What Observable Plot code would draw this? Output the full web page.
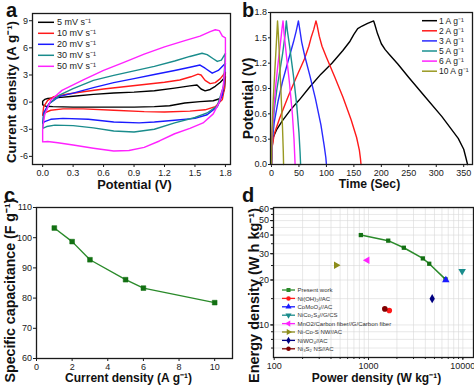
<!DOCTYPE html>
<html><head><meta charset="utf-8">
<script src="https://cdn.jsdelivr.net/npm/d3@7"></script>
<script src="https://cdn.jsdelivr.net/npm/@observablehq/plot@0.6"></script>
<style>
body{margin:0;background:#fff;}
#wrap{position:relative;width:474px;height:387px;overflow:hidden;background:#fff;font-family:"Liberation Sans",Arial,sans-serif;}
.panel{position:absolute;}
.letter{position:absolute;font:bold 20px "Liberation Sans",Arial,sans-serif;line-height:1;color:#111;}
</style></head>
<body><div id="wrap"></div>
<script>
// ---------- Panel a: CV curves [potential V, current A/g] ----------
const cvLabels = ["5 mV s⁻¹","10 mV s⁻¹","20 mV s⁻¹","30 mV s⁻¹","50 mV s⁻¹"];
const cv5 = [[0,-0.3],[0,0.1],[0.02,0.3],[0.05,0.4],[0.15,0.5],[0.3,0.65],[0.5,0.85],[0.7,1.0],[0.9,1.1],[1.1,1.25],[1.3,1.55],[1.45,1.8],[1.52,1.9],[1.56,1.45],[1.6,1.25],[1.65,1.4],[1.7,1.75],[1.75,2.2],[1.8,2.8],[1.79,1.4],[1.75,0.4],[1.68,0.15],[1.55,0.05],[1.4,-0.1],[1.25,-0.4],[1.1,-0.5],[0.9,-0.55],[0.6,-0.55],[0.3,-0.55],[0.1,-0.5],[0.03,-0.45],[0,-0.3]];
const cv10 = [[0,-1.45],[0.01,-0.5],[0.05,0.2],[0.11,0.6],[0.25,0.9],[0.4,1.15],[0.6,1.45],[0.8,1.7],[1.0,1.95],[1.2,2.2],[1.35,2.45],[1.46,2.8],[1.53,3.1],[1.56,3.0],[1.6,2.4],[1.65,2.05],[1.7,2.15],[1.75,2.6],[1.8,3.3],[1.79,1.5],[1.77,0.3],[1.7,-0.5],[1.6,-0.85],[1.45,-1.0],[1.2,-1.1],[1.0,-1.05],[0.7,-0.9],[0.4,-0.75],[0.2,-0.75],[0.08,-0.9],[0.02,-1.2],[0,-1.45]];
const cv20 = [[0,-2.35],[0.01,-1.2],[0.06,-0.2],[0.16,0.6],[0.3,1.0],[0.5,1.6],[0.7,2.15],[0.9,2.6],[1.1,3.05],[1.3,3.5],[1.45,3.85],[1.55,4.1],[1.6,3.75],[1.67,3.2],[1.73,3.5],[1.8,4.3],[1.79,2.5],[1.77,0.8],[1.72,-0.5],[1.62,-1.4],[1.5,-1.8],[1.3,-2.0],[1.1,-2.2],[0.95,-2.3],[0.7,-2.2],[0.45,-1.9],[0.2,-1.8],[0.08,-1.9],[0.02,-2.15],[0,-2.35]];
const cv30 = [[0,-2.9],[0.01,-1.5],[0.07,-0.1],[0.17,0.8],[0.3,1.5],[0.5,2.4],[0.7,2.95],[0.9,3.45],[1.1,3.95],[1.3,4.55],[1.45,5.05],[1.57,5.4],[1.62,5.25],[1.68,4.8],[1.72,4.5],[1.76,4.65],[1.8,5.4],[1.79,3.5],[1.78,1.7],[1.72,-0.4],[1.62,-1.2],[1.5,-1.7],[1.3,-2.3],[1.1,-3.0],[0.9,-3.3],[0.7,-3.2],[0.5,-2.85],[0.3,-2.6],[0.12,-2.55],[0.04,-2.7],[0,-2.9]];
const cv50 = [[0,-4.4],[0,-3.0],[0.02,-1.4],[0.08,0.2],[0.19,1.3],[0.4,2.45],[0.6,3.5],[0.8,4.4],[1.0,5.3],[1.2,6.1],[1.4,6.8],[1.55,7.3],[1.65,7.8],[1.7,8.0],[1.74,7.9],[1.77,7.3],[1.8,7.1],[1.8,4.5],[1.78,1.8],[1.74,0.0],[1.68,-1.3],[1.58,-2.3],[1.45,-2.9],[1.3,-3.5],[1.15,-4.3],[1.0,-5.0],[0.85,-5.35],[0.7,-5.4],[0.5,-5.1],[0.3,-4.75],[0.15,-4.5],[0.05,-4.35],[0,-4.4]];
const cvTicksX = [0,0.3,0.6,0.9,1.2,1.5,1.8];
const cvTicksY = [-6,-3,0,3,6,9];

// ---------- Panel b: GCD curves [time s, potential V] ----------
const gcdLabels = ["1 A g⁻¹","2 A g⁻¹","3 A g⁻¹","5 A g⁻¹","6 A g⁻¹","10 A g⁻¹"];
const gcd1 = [[0,0],[1,0.2],[3,0.32],[10,0.42],[20,0.52],[35,0.65],[50,0.76],[70,0.92],[90,1.07],[110,1.2],[130,1.35],[143,1.46],[150,1.54],[157,1.61],[165,1.64],[175,1.67],[186,1.70],[188,1.66],[193,1.55],[200,1.43],[207,1.36],[215,1.30],[230,1.19],[250,1.03],[280,0.80],[310,0.57],[340,0.31],[350,0.18],[354,0.08],[357,0]];
const gcd2 = [[0,0],[1,0.2],[5,0.36],[15,0.55],[30,0.8],[45,1.03],[60,1.25],[68,1.4],[72,1.5],[77,1.6],[81,1.7],[83,1.65],[87,1.52],[92,1.40],[100,1.27],[115,1.04],[130,0.80],[145,0.53],[155,0.32],[160,0.17],[162,0.07],[163,0]];
const gcd3 = [[0,0],[1,0.25],[5,0.5],[12,0.75],[20,0.98],[30,1.22],[40,1.45],[45,1.58],[49,1.7],[51,1.62],[55,1.45],[60,1.30],[70,1.05],[80,0.78],[90,0.47],[96,0.22],[99,0.08],[100,0]];
const gcd5 = [[0,0],[1,0.3],[5,0.65],[10,0.9],[15,1.1],[20,1.3],[25,1.55],[27,1.7],[29,1.58],[33,1.40],[40,1.05],[46,0.7],[50,0.38],[52,0.15],[53,0]];
const gcd6 = [[0,0],[1,0.35],[4,0.65],[8,0.95],[12,1.2],[16,1.42],[19,1.6],[21,1.7],[23,1.55],[27,1.3],[33,0.95],[38,0.6],[41,0.3],[43,0]];
const gcd10 = [[0,0],[1,0.4],[3,0.75],[6,1.1],[9,1.45],[11,1.7],[12,1.6],[14,1.35],[17,0.9],[20,0.45],[21.5,0.15],[22,0]];
const gcdTicksX = [0,50,100,150,200,250,300,350];
const gcdTicksY = [0,0.3,0.6,0.9,1.2,1.5,1.8];

// ---------- Panel c: specific capacitance ----------
const capCurrent = [1,2,3,5,6,10];
const capValue = [103.2,98.7,92.7,86.1,83.3,78.5];
const capTicksX = [0,2,4,6,8,10];
const capTicksY = [60,70,80,90,100,110];

// ---------- Panel d: Ragone plot ----------
const pwPower = [829,1618,2368,3765,4403,6555];
const pwEnergy = [40.0,36.7,32.9,27.9,25.7,20.2];
const refNames = ["Ni(OH)₂//AC","CoMoO₄//AC","NiCo₂S₄//G/CS","MnO2/Carbon fiber//G/Carbon fiber","Ni-Co-S NW//AC","NiWO₄//AC","Ni₃S₂ NS//AC"];
const refPower = [1660,6600,9830,969,454,4730,1489];
const refEnergy = [12.5,20.0,22.9,27.1,25.1,15.0,12.8];
const ragTicksX = [100,1000,10000];
const ragTicksY = [10,20,30,40,50,60];
const ragGridX = [200,300,400,500,600,700,800,900,1000,2000,3000,4000,5000,6000,7000,8000,9000,10000];
const ragGridY = [7,8,9,10,15,20,25,30,35,40,45,50,55,60];

// ---------- styles (kept apart from data) ----------
const cvColors = ["#000000","#ff1a1a","#1a1aff","#1a8c8c","#ff22ff"];
const gcdColors = ["#000000","#ff1a1a","#2a2aff","#1a9090","#ff22ff","#999922"];
const presentColor = "#2a8a2a";
const refColors = ["#ff1a1a","#1a1aff","#1a8c8c","#ff22ff","#8c8c1a","#000080","#800000"];
const refSymbols = ["circle","triangle","triangle","triangle","triangle","diamond","circle"];
const refRotate = [0,0,180,-90,90,0,0];
const FONT = '"Liberation Sans", Arial, sans-serif';

const wrap = document.getElementById("wrap");
function place(el, left, top) {
  const d = document.createElement("div");
  d.className = "panel"; d.style.left = left + "px"; d.style.top = top + "px";
  d.appendChild(el); wrap.appendChild(d);
}
function letter(t, left, top) {
  const s = document.createElement("div");
  s.className = "letter"; s.textContent = t; s.style.left = left + "px"; s.style.top = top + "px";
  wrap.appendChild(s);
}
const baseStyle = {fontFamily: FONT, fontSize: "9px", color: "#1a1a1a", background: "transparent", overflow: "visible"};
const lblStyle = {fontWeight: "bold", fill: "#111", fontFamily: FONT, textAnchor: "middle", lineAnchor: "middle"};
function lineLegend(svg, labels, colors, x1, x2, tx, y0, dy, fs) {
  const g = d3.select(svg).append("g");
  labels.forEach((lab, k) => {
    const y = y0 + k * dy;
    g.append("line").attr("x1", x1).attr("x2", x2).attr("y1", y).attr("y2", y)
      .attr("stroke", colors[k]).attr("stroke-width", 1.5);
    g.append("text").attr("x", tx).attr("y", y).attr("dy", "0.35em").attr("text-anchor", "start")
      .attr("font-size", fs).attr("fill", "#222").attr("font-family", FONT).text(lab);
  });
}

// ===== Panel a =====
const cvAll = [cv5, cv10, cv20, cv30, cv50];
const cvRows = cvAll.flatMap((pts, k) => pts.map(([v, i]) => ({v, i, s: cvLabels[k]})));
const pa = Plot.plot({
  width: 237, height: 193, marginLeft: 32, marginRight: 7, marginTop: 13, marginBottom: 29,
  style: baseStyle,
  x: {domain: [-0.1, 1.85], label: null},
  y: {domain: [-6.9, 9.8], label: null},
  color: {domain: cvLabels, range: cvColors},
  marks: [
    Plot.axisX({ticks: cvTicksX, tickSize: 3, tickPadding: 2, tickFormat: d => d.toFixed(1), label: null}),
    Plot.axisY({ticks: cvTicksY, tickSize: 3, tickPadding: 1.5, tickFormat: d => String(d), label: null}),
    Plot.line(cvRows, {x: "v", y: "i", z: "s", stroke: "s", strokeWidth: 1.4, curve: "linear"}),
    Plot.text(["Potential (V)"], {text: d => d, frameAnchor: "bottom", dx: 3, dy: 20.5, fontSize: 12.8, ...lblStyle}),
    Plot.text(["Current density (A g⁻¹)"], {text: d => d, frameAnchor: "left", rotate: -90, dx: -20.5, dy: 3, fontSize: 13.4, ...lblStyle}),
    Plot.frame({stroke: "#1a1a1a", strokeWidth: 1.3})
  ]
});
lineLegend(pa, cvLabels, cvColors, 38, 54, 57, 22.3, 11, 9);
place(pa, 0, 0);

// ===== Panel b =====
const gcdAll = [gcd1, gcd2, gcd3, gcd5, gcd6, gcd10];
const gcdRows = gcdAll.flatMap((pts, k) => pts.map(([t, v]) => ({t, v, s: gcdLabels[k]})));
const pb = Plot.plot({
  width: 237, height: 193, marginLeft: 33, marginRight: 2, marginTop: 12, marginBottom: 29,
  style: baseStyle,
  x: {domain: [-1.8, 366], label: null},
  y: {domain: [0, 1.8], label: null},
  color: {domain: gcdLabels, range: gcdColors},
  marks: [
    Plot.axisX({ticks: gcdTicksX, tickSize: 3, tickPadding: 2, tickFormat: d => String(d), label: null}),
    Plot.axisY({ticks: gcdTicksY, tickSize: 2, tickPadding: 1.5, tickFormat: d => d.toFixed(1), label: null}),
    Plot.line(gcdRows, {x: "t", y: "v", z: "s", stroke: "s", strokeWidth: 1.4}),
    Plot.text(["Time (Sec)"], {text: d => d, frameAnchor: "bottom", dx: -2, dy: 20, fontSize: 12.2, ...lblStyle}),
    Plot.text(["Potential (V)"], {text: d => d, frameAnchor: "left", rotate: -90, dx: -22, dy: 10, fontSize: 14, ...lblStyle}),
    Plot.frame({stroke: "#1a1a1a", strokeWidth: 1.3})
  ]
});
lineLegend(pb, gcdLabels, gcdColors, 185, 200, 202, 20.7, 10.1, 8.5);
place(pb, 237, 0);

// ===== Panel c =====
const capRows = capCurrent.map((j, k) => ({j, c: capValue[k]}));
const pc = Plot.plot({
  width: 237, height: 194, marginLeft: 36, marginRight: 5, marginTop: 14, marginBottom: 29,
  style: baseStyle,
  x: {domain: [0, 11], label: null},
  y: {domain: [60, 110], label: null},
  marks: [
    Plot.axisX({ticks: capTicksX, tickSize: 3, tickPadding: 2, tickFormat: d => String(d), label: null}),
    Plot.axisY({ticks: capTicksY, tickSize: 3, tickPadding: 1.5, tickFormat: d => String(d), label: null}),
    Plot.line(capRows, {x: "j", y: "c", stroke: presentColor, strokeWidth: 1.4}),
    Plot.dot(capRows, {x: "j", y: "c", symbol: "square", r: 2.7, fill: "#137013", stroke: "#137013", strokeWidth: 0.5}),
    Plot.text(["Current density (A g⁻¹)"], {text: d => d, frameAnchor: "bottom", dx: -6, dy: 20, fontSize: 12, ...lblStyle}),
    Plot.text(["Specific capacitance (F g⁻¹)"], {text: d => d, frameAnchor: "left", rotate: -90, dx: -26, dy: 7.5, fontSize: 14.2, ...lblStyle}),
    Plot.frame({stroke: "#1a1a1a", strokeWidth: 1.3})
  ]
});
place(pc, 0, 193);

// ===== Panel d =====
const pwRows = pwPower.map((p, k) => ({p, e: pwEnergy[k]}));
const refRows = refNames.map((n, k) => ({n, p: refPower[k], e: refEnergy[k], k}));
const pd = Plot.plot({
  width: 237, height: 194, marginLeft: 36, marginRight: 1, marginTop: 14, marginBottom: 30,
  style: baseStyle,
  x: {type: "log", domain: [98.3, 12970], label: null},
  y: {type: "log", domain: [6.05, 61.2], label: null},
  marks: [
    Plot.gridX(ragGridX, {stroke: "#d8d8d8", strokeOpacity: 1, strokeWidth: 0.6}),
    Plot.gridY(ragGridY, {stroke: "#d8d8d8", strokeOpacity: 1, strokeWidth: 0.6}),
    Plot.axisX({ticks: ragTicksX, tickSize: 3, tickPadding: 2, tickFormat: d => String(d), label: null}),
    Plot.axisX({ticks: ragGridX, tickSize: 2, tickFormat: () => "", label: null}),
    Plot.axisY({ticks: ragTicksY, tickSize: 3, tickPadding: 1.5, tickFormat: d => String(d), label: null}),
    Plot.axisY({ticks: ragGridY, tickSize: 2, tickFormat: () => "", label: null}),
    Plot.line(pwRows, {x: "p", y: "e", stroke: presentColor, strokeWidth: 1.5}),
    Plot.dot(pwRows, {x: "p", y: "e", symbol: "square", r: 2.4, fill: "#137013"}),
    ...refRows.map(d => Plot.dot([d], {x: "p", y: "e", symbol: refSymbols[d.k], rotate: refRotate[d.k], r: 2.8, fill: refColors[d.k]})),
    Plot.text(["Power density (W kg⁻¹)"], {text: d => d, frameAnchor: "bottom", dx: 3, dy: 21, fontSize: 12, ...lblStyle}),
    Plot.text(["Energy density (W h kg⁻¹)"], {text: d => d, frameAnchor: "left", rotate: -90, dx: -19, dy: 13, fontSize: 14.5, ...lblStyle}),
    Plot.frame({stroke: "#1a1a1a", strokeWidth: 1.3})
  ]
});
{
  const g = d3.select(pd).append("g");
  const legNames = ["Present work", ...refNames];
  const legColors = [presentColor, ...refColors];
  const legSym = ["square", ...refSymbols];
  const legRot = [0, ...refRotate];
  const symType = {square: d3.symbolSquare, circle: d3.symbolCircle, triangle: d3.symbolTriangle, diamond: d3.symbolDiamond};
  legNames.forEach((n, k) => {
    const y = 97 + k * 8.4;
    g.append("line").attr("x1", 45).attr("x2", 58).attr("y1", y).attr("y2", y)
      .attr("stroke", legColors[k]).attr("stroke-width", 1.3);
    g.append("path").attr("d", d3.symbol(symType[legSym[k]], 16)())
      .attr("transform", `translate(51.5,${y}) rotate(${legRot[k]})`).attr("fill", legColors[k]);
    g.append("text").attr("x", 60.5).attr("y", y).attr("dy", "0.35em").attr("text-anchor", "start")
      .attr("font-size", 6).attr("fill", "#333").attr("font-family", FONT).text(n);
  });
}
place(pd, 237, 193);

letter("a", 6, 0);
letter("b", 242, -0.5);
letter("c", 4, 185);
letter("d", 242, 185);
</script></body></html>
